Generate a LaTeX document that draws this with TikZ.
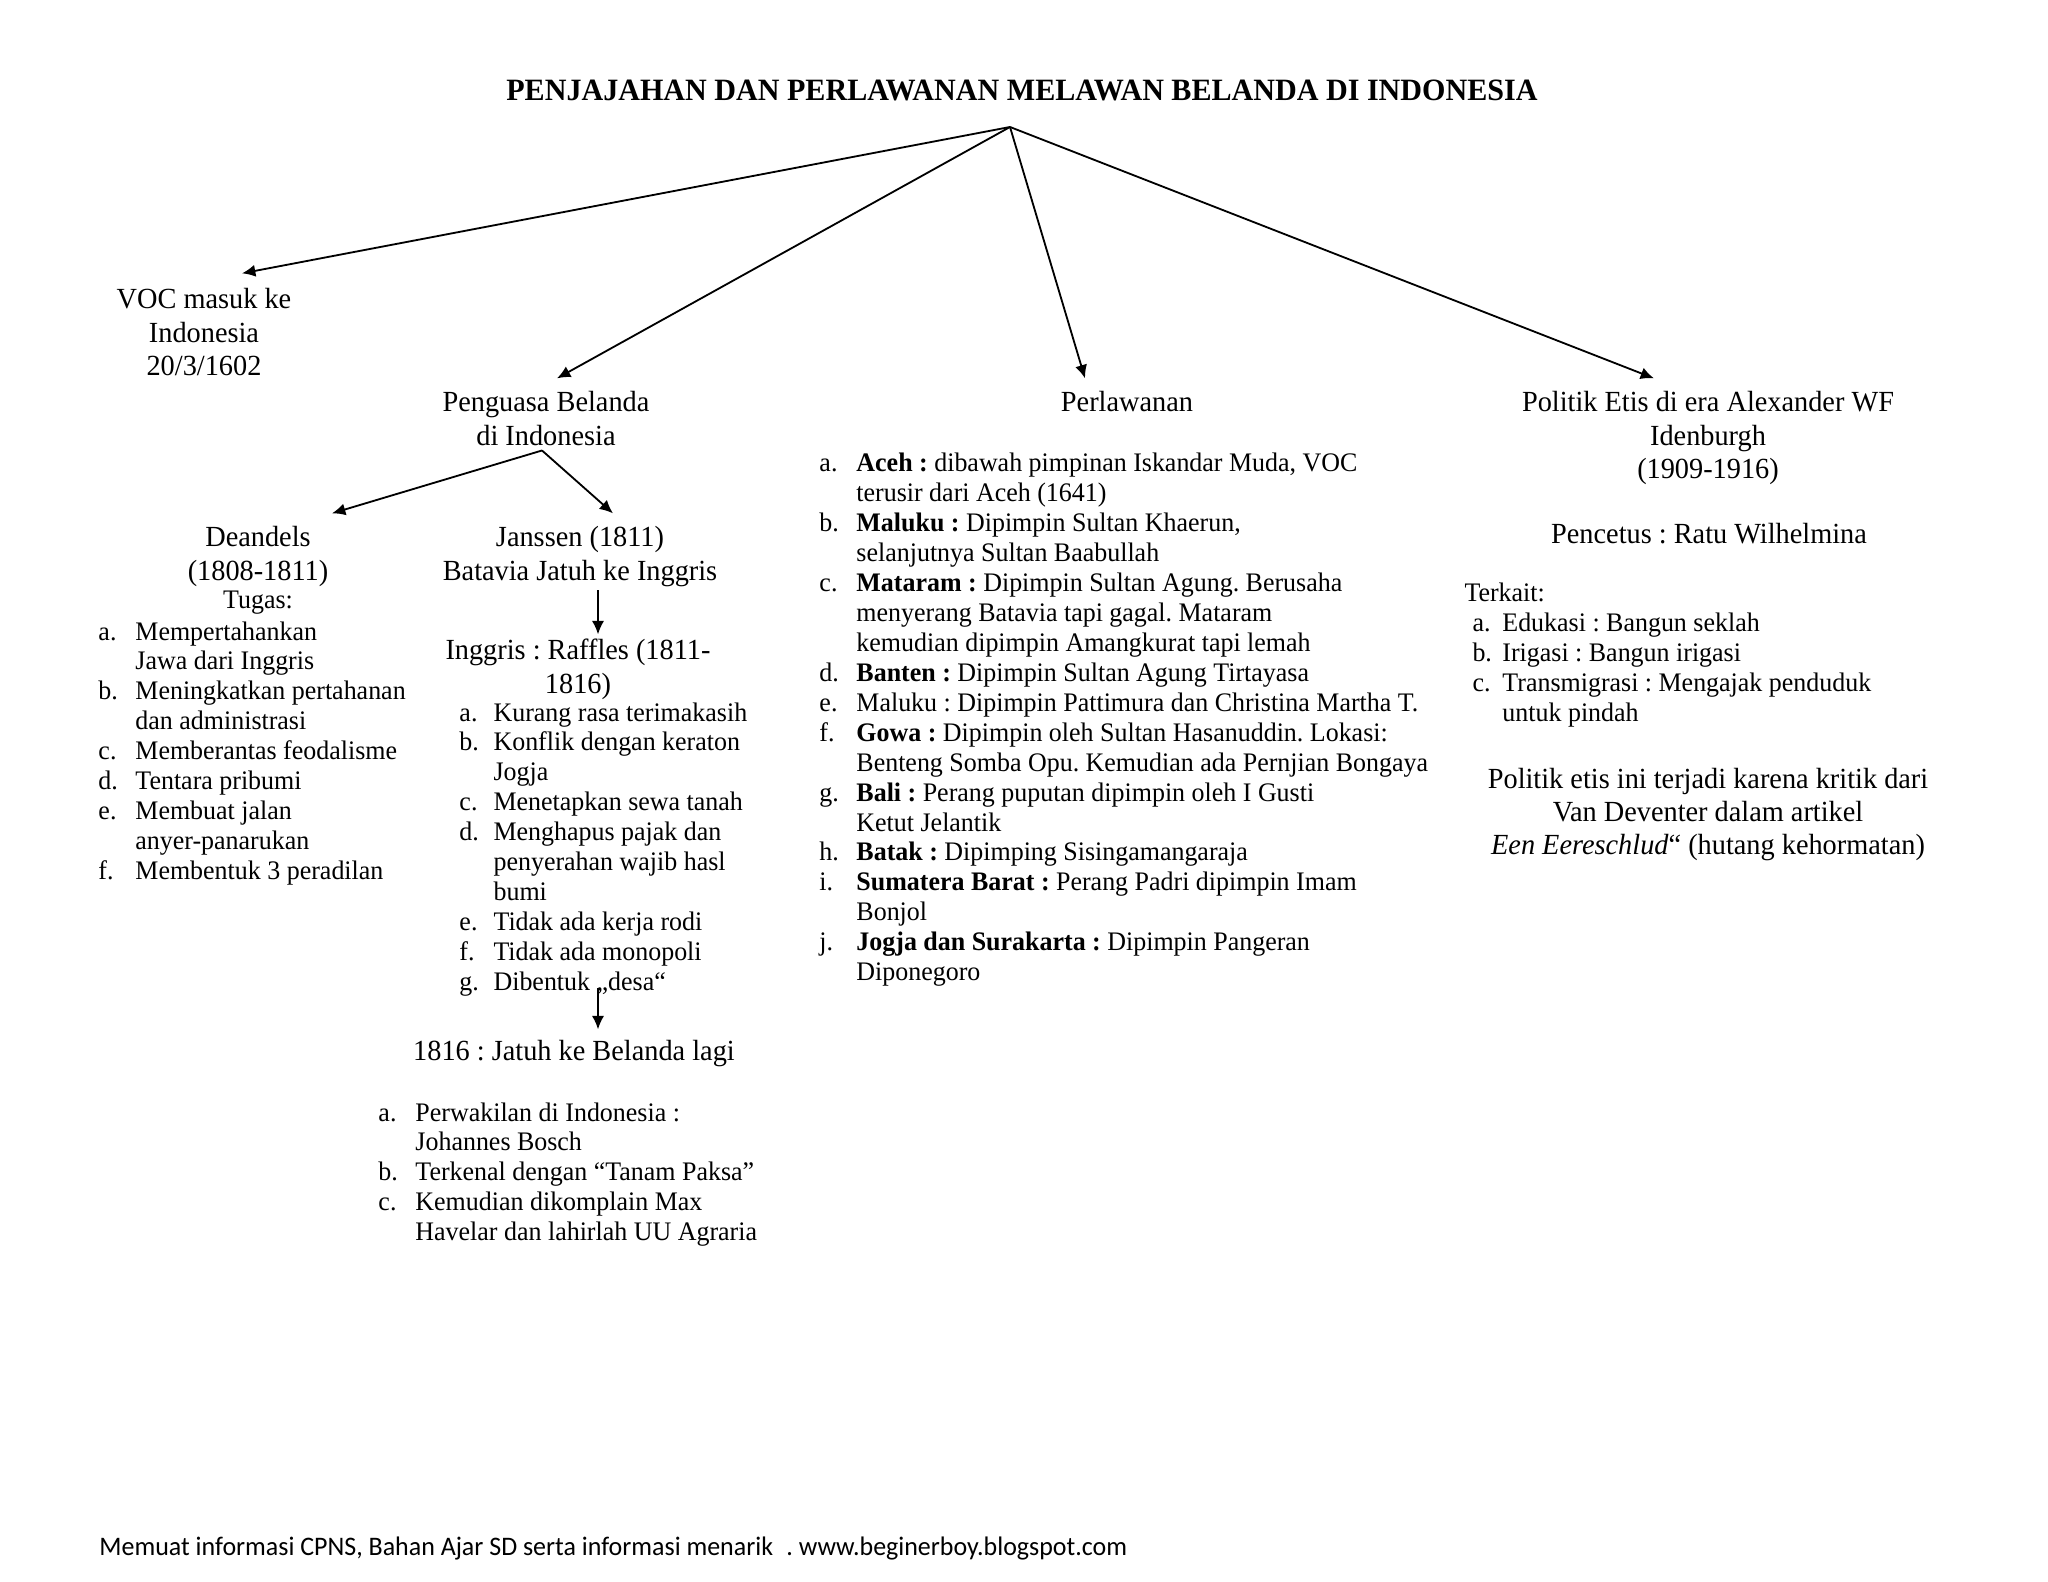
\documentclass[tikz,border=0pt]{standalone}
\usepackage{fontspec}
\setmainfont{Liberation Serif}[FakeStretch=0.97]
\newfontfamily\footfont{Carlito}[FakeStretch=0.97]
\usetikzlibrary{positioning,arrows.meta}
\frenchspacing

\newcommand{\mainsize}{\fontsize{12}{13.6}\selectfont}
\newcommand{\listsize}{\fontsize{11}{12.3}\selectfont}
\newcommand{\ctext}[1]{\begin{tabular}[t]{@{}c@{}}#1\end{tabular}}
\newcommand{\ltext}[2]{\begin{tabular}[t]{@{}p{#1}@{}l@{}}#2\end{tabular}}

\tikzset{%
heading/.style={font=\fontsize{12.75}{14}\selectfont\bfseries,inner sep=0,anchor=base},
topic/.style={font=\mainsize,inner sep=0,anchor=base},
note/.style={font=\listsize,inner sep=0,anchor=base},
items/.style={font=\listsize,inner sep=0,anchor=base west},
link/.style={-{Latex[length=5.5pt,width=5pt]},line width=0.75pt},
footer/.style={font=\footfont\fontsize{11}{13}\selectfont,inner sep=0,anchor=base west}
}

\begin{document}
\begin{tikzpicture}[x=0.4111pt,y=-0.4111pt]
  \useasboundingbox (0,0) rectangle (2048,1582);

  \node[heading] (judul) at (1022,101)
    {PENJAJAHAN DAN PERLAWANAN MELAWAN BELANDA DI INDONESIA};
  \coordinate (hub) at (1010,127);

  % first level
  \node[topic] (voc) at (204,309) {\ctext{VOC masuk ke\\Indonesia\\20/3/1602}};
  \node[topic] (penguasa) at (546,412) {\ctext{Penguasa Belanda\\di Indonesia}};
  \node[topic] (perlawanan) at (1127,412) {\ctext{Perlawanan}};
  \node[topic] (etis) at (1708,412)
    {\ctext{Politik Etis di era Alexander WF\\Idenburgh\\(1909-1916)}};

  \draw[link] (hub) -- ([shift={(38,-12)}]voc.north);
  \draw[link] (hub) -- ([shift={(11,-10)}]penguasa.north);
  \draw[link] (hub) -- ([shift={(-42,-10)}]perlawanan.north);
  \draw[link] (hub) -- ([shift={(-54,-10)}]etis.north);

  % penguasa belanda
  \node[topic] (deandels) at (258,547) {\ctext{Deandels\\(1808-1811)}};
  \node[note] (tugas) at (258,608) {Tugas:};
  \node[items] (tugaslist) at (98,640) {\ltext{15.2pt}{%
    a. & Mempertahankan\\
       & Jawa dari Inggris\\
    b. & Meningkatkan pertahanan\\
       & dan administrasi\\
    c. & Memberantas feodalisme\\
    d. & Tentara pribumi\\
    e. & Membuat jalan\\
       & anyer-panarukan\\
    f. & Membentuk 3 peradilan}};

  \node[topic] (janssen) at (580,547) {\ctext{Janssen (1811)\\Batavia Jatuh ke Inggris}};
  \node[topic] (raffles) at (578,660) {\ctext{Inggris : Raffles (1811-\\1816)}};
  \node[items] (raffleslist) at (459,721) {\ltext{14pt}{%
    a. & Kurang rasa terimakasih\\
    b. & Konflik dengan keraton\\
       & Jogja\\
    c. & Menetapkan sewa tanah\\
    d. & Menghapus pajak dan\\
       & penyerahan wajib hasl\\
       & bumi\\
    e. & Tidak ada kerja rodi\\
    f. & Tidak ada monopoli\\
    g. & Dibentuk „desa“}};
  \node[topic] (kembali) at (574,1060) {\ctext{1816 : Jatuh ke Belanda lagi}};
  \node[items] (boschlist) at (378,1121) {\ltext{15.2pt}{%
    a. & Perwakilan di Indonesia :\\
       & Johannes Bosch\\
    b. & Terkenal dengan “Tanam Paksa”\\
    c. & Kemudian dikomplain Max\\
       & Havelar dan lahirlah UU Agraria}};

  \coordinate (naik) at ([shift={(18,0)}]janssen.south);
  \coordinate (turun) at ([shift={(24,0)}]kembali.north);
  \draw[link] ([shift={(-4,-5)}]penguasa.south) -- ([shift={(74,-10)}]deandels.north);
  \draw[link] ([shift={(-4,-5)}]penguasa.south) -- ([shift={(33,-10)}]janssen.north);
  \draw[link] (naik) -- ([shift={(0,-2)}]naik |- raffles.north);
  \draw[link] ([shift={(0,-12)}]turun |- raffleslist.south) -- ([shift={(0,-7)}]turun);

  % perlawanan
  \node[items] (lawanlist) at (819,472) {\ltext{15.2pt}{%
    a. & \textbf{Aceh :} dibawah pimpinan Iskandar Muda, VOC\\
       & terusir dari Aceh (1641)\\
    b. & \textbf{Maluku :} Dipimpin Sultan Khaerun,\\
       & selanjutnya Sultan Baabullah\\
    c. & \textbf{Mataram :} Dipimpin Sultan Agung. Berusaha\\
       & menyerang Batavia tapi gagal. Mataram\\
       & kemudian dipimpin Amangkurat tapi lemah\\
    d. & \textbf{Banten :} Dipimpin Sultan Agung Tirtayasa\\
    e. & Maluku : Dipimpin Pattimura dan Christina Martha T.\\
    f. & \textbf{Gowa :} Dipimpin oleh Sultan Hasanuddin. Lokasi:\\
       & Benteng Somba Opu. Kemudian ada Pernjian Bongaya\\
    g. & \textbf{Bali :} Perang puputan dipimpin oleh I Gusti\\
       & Ketut Jelantik\\
    h. & \textbf{Batak :} Dipimping Sisingamangaraja\\
    i. & \textbf{Sumatera Barat :} Perang Padri dipimpin Imam\\
       & Bonjol\\
    j. & \textbf{Jogja dan Surakarta :} Dipimpin Pangeran\\
       & Diponegoro}};

  % politik etis
  \node[topic] (pencetus) at (1709,544) {Pencetus : Ratu Wilhelmina};
  \node[items] (terkait) at (1464,602) {Terkait:};
  \node[items] (terkaitlist) at (1472,632) {\ltext{12.3pt}{%
    a. & Edukasi : Bangun seklah\\
    b. & Irigasi : Bangun irigasi\\
    c. & Transmigrasi : Mengajak penduduk\\
       & untuk pindah}};
  \node[topic] (kritik) at (1708,788) {\ctext{Politik etis ini terjadi karena kritik dari\\
    Van Deventer dalam artikel\\
    \textit{Een Eereschlud}“ (hutang kehormatan)}};

  \node[footer] (kaki) at (99,1555)
    {Memuat informasi CPNS, Bahan Ajar SD serta informasi menarik\enspace. www.beginerboy.blogspot.com};
\end{tikzpicture}
\end{document}
